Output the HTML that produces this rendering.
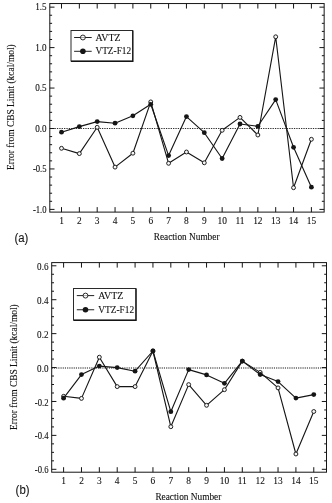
<!DOCTYPE html>
<html><head><meta charset="utf-8"><title>Error from CBS Limit</title>
<style>
html,body{margin:0;padding:0;background:#fff;}
svg{display:block}
.t{font-family:"Liberation Serif", "DejaVu Serif", serif;font-size:9.4px;fill:#111;stroke:#111;stroke-width:0.1px}
.s{font-family:"Liberation Sans", "DejaVu Sans", sans-serif;font-size:12px;fill:#161616;stroke:#161616;stroke-width:0.12px}
</style></head><body>
<svg width="332" height="503" viewBox="0 0 332 503">
<rect width="332" height="503" fill="#fff"/>
<rect x="49.8" y="3.55" width="274.34999999999997" height="208.54999999999998" fill="none" stroke="#151515" stroke-width="1"/>
<line x1="49.8" y1="128.5" x2="324.15" y2="128.5" stroke="#151515" stroke-width="0.9" stroke-dasharray="1.3 1.07"/>
<path d="M61.50 212.1V207.1M61.50 3.55V8.55M79.35 212.1V207.1M79.35 3.55V8.55M97.20 212.1V207.1M97.20 3.55V8.55M115.05 212.1V207.1M115.05 3.55V8.55M132.90 212.1V207.1M132.90 3.55V8.55M150.75 212.1V207.1M150.75 3.55V8.55M168.60 212.1V207.1M168.60 3.55V8.55M186.45 212.1V207.1M186.45 3.55V8.55M204.30 212.1V207.1M204.30 3.55V8.55M222.15 212.1V207.1M222.15 3.55V8.55M240.00 212.1V207.1M240.00 3.55V8.55M257.85 212.1V207.1M257.85 3.55V8.55M275.70 212.1V207.1M275.70 3.55V8.55M293.55 212.1V207.1M293.55 3.55V8.55M311.40 212.1V207.1M311.40 3.55V8.55M49.8 209.40H54.5M324.15 209.40H319.45M49.8 201.31H52.099999999999994M324.15 201.31H321.84999999999997M49.8 193.22H52.099999999999994M324.15 193.22H321.84999999999997M49.8 185.13H52.099999999999994M324.15 185.13H321.84999999999997M49.8 177.04H52.099999999999994M324.15 177.04H321.84999999999997M49.8 168.95H54.5M324.15 168.95H319.45M49.8 160.86H52.099999999999994M324.15 160.86H321.84999999999997M49.8 152.77H52.099999999999994M324.15 152.77H321.84999999999997M49.8 144.68H52.099999999999994M324.15 144.68H321.84999999999997M49.8 136.59H52.099999999999994M324.15 136.59H321.84999999999997M49.8 128.50H54.5M324.15 128.50H319.45M49.8 120.41H52.099999999999994M324.15 120.41H321.84999999999997M49.8 112.32H52.099999999999994M324.15 112.32H321.84999999999997M49.8 104.23H52.099999999999994M324.15 104.23H321.84999999999997M49.8 96.14H52.099999999999994M324.15 96.14H321.84999999999997M49.8 88.05H54.5M324.15 88.05H319.45M49.8 79.96H52.099999999999994M324.15 79.96H321.84999999999997M49.8 71.87H52.099999999999994M324.15 71.87H321.84999999999997M49.8 63.78H52.099999999999994M324.15 63.78H321.84999999999997M49.8 55.69H52.099999999999994M324.15 55.69H321.84999999999997M49.8 47.60H54.5M324.15 47.60H319.45M49.8 39.51H52.099999999999994M324.15 39.51H321.84999999999997M49.8 31.42H52.099999999999994M324.15 31.42H321.84999999999997M49.8 23.33H52.099999999999994M324.15 23.33H321.84999999999997M49.8 15.24H52.099999999999994M324.15 15.24H321.84999999999997M49.8 7.15H54.5M324.15 7.15H319.45" stroke="#151515" stroke-width="1" fill="none"/>
<text x="46.6" y="10.45" text-anchor="end" class="t" textLength="11.40" lengthAdjust="spacingAndGlyphs">1.5</text>
<text x="46.6" y="50.90" text-anchor="end" class="t" textLength="11.40" lengthAdjust="spacingAndGlyphs">1.0</text>
<text x="46.6" y="91.35" text-anchor="end" class="t" textLength="11.40" lengthAdjust="spacingAndGlyphs">0.5</text>
<text x="46.6" y="131.80" text-anchor="end" class="t" textLength="11.40" lengthAdjust="spacingAndGlyphs">0.0</text>
<text x="46.6" y="172.25" text-anchor="end" class="t" textLength="13.69" lengthAdjust="spacingAndGlyphs">-0.5</text>
<text x="46.6" y="212.70" text-anchor="end" class="t" textLength="13.69" lengthAdjust="spacingAndGlyphs">-1.0</text>
<text x="61.50" y="224.1" text-anchor="middle" class="t">1</text>
<text x="79.35" y="224.1" text-anchor="middle" class="t">2</text>
<text x="97.20" y="224.1" text-anchor="middle" class="t">3</text>
<text x="115.05" y="224.1" text-anchor="middle" class="t">4</text>
<text x="132.90" y="224.1" text-anchor="middle" class="t">5</text>
<text x="150.75" y="224.1" text-anchor="middle" class="t">6</text>
<text x="168.60" y="224.1" text-anchor="middle" class="t">7</text>
<text x="186.45" y="224.1" text-anchor="middle" class="t">8</text>
<text x="204.30" y="224.1" text-anchor="middle" class="t">9</text>
<text x="222.15" y="224.1" text-anchor="middle" class="t">10</text>
<text x="240.00" y="224.1" text-anchor="middle" class="t">11</text>
<text x="257.85" y="224.1" text-anchor="middle" class="t">12</text>
<text x="275.70" y="224.1" text-anchor="middle" class="t">13</text>
<text x="293.55" y="224.1" text-anchor="middle" class="t">14</text>
<text x="311.40" y="224.1" text-anchor="middle" class="t">15</text>
<polyline points="61.50,148.30 79.35,153.60 97.20,127.30 115.05,167.10 132.90,153.20 150.75,101.90 168.60,163.30 186.45,152.00 204.30,162.80 222.15,130.30 240.00,117.40 257.85,135.00 275.70,36.80 293.55,187.70 311.40,139.30" fill="none" stroke="#151515" stroke-width="1.12" stroke-linejoin="round"/>
<circle cx="61.50" cy="148.30" r="1.95" fill="#f6f6f6" stroke="#151515" stroke-width="0.95"/>
<circle cx="79.35" cy="153.60" r="1.95" fill="#f6f6f6" stroke="#151515" stroke-width="0.95"/>
<circle cx="97.20" cy="127.30" r="1.95" fill="#f6f6f6" stroke="#151515" stroke-width="0.95"/>
<circle cx="115.05" cy="167.10" r="1.95" fill="#f6f6f6" stroke="#151515" stroke-width="0.95"/>
<circle cx="132.90" cy="153.20" r="1.95" fill="#f6f6f6" stroke="#151515" stroke-width="0.95"/>
<circle cx="150.75" cy="101.90" r="1.95" fill="#f6f6f6" stroke="#151515" stroke-width="0.95"/>
<circle cx="168.60" cy="163.30" r="1.95" fill="#f6f6f6" stroke="#151515" stroke-width="0.95"/>
<circle cx="186.45" cy="152.00" r="1.95" fill="#f6f6f6" stroke="#151515" stroke-width="0.95"/>
<circle cx="204.30" cy="162.80" r="1.95" fill="#f6f6f6" stroke="#151515" stroke-width="0.95"/>
<circle cx="222.15" cy="130.30" r="1.95" fill="#f6f6f6" stroke="#151515" stroke-width="0.95"/>
<circle cx="240.00" cy="117.40" r="1.95" fill="#f6f6f6" stroke="#151515" stroke-width="0.95"/>
<circle cx="257.85" cy="135.00" r="1.95" fill="#f6f6f6" stroke="#151515" stroke-width="0.95"/>
<circle cx="275.70" cy="36.80" r="1.95" fill="#f6f6f6" stroke="#151515" stroke-width="0.95"/>
<circle cx="293.55" cy="187.70" r="1.95" fill="#f6f6f6" stroke="#151515" stroke-width="0.95"/>
<circle cx="311.40" cy="139.30" r="1.95" fill="#f6f6f6" stroke="#151515" stroke-width="0.95"/>
<polyline points="61.50,132.20 79.35,126.60 97.20,121.60 115.05,123.20 132.90,115.80 150.75,104.30 168.60,155.60 186.45,116.60 204.30,132.70 222.15,158.50 240.00,124.00 257.85,126.30 275.70,99.60 293.55,147.30 311.40,187.20" fill="none" stroke="#151515" stroke-width="1.12" stroke-linejoin="round"/>
<circle cx="61.50" cy="132.20" r="2.4" fill="#151515"/>
<circle cx="79.35" cy="126.60" r="2.4" fill="#151515"/>
<circle cx="97.20" cy="121.60" r="2.4" fill="#151515"/>
<circle cx="115.05" cy="123.20" r="2.4" fill="#151515"/>
<circle cx="132.90" cy="115.80" r="2.4" fill="#151515"/>
<circle cx="150.75" cy="104.30" r="2.4" fill="#151515"/>
<circle cx="168.60" cy="155.60" r="2.4" fill="#151515"/>
<circle cx="186.45" cy="116.60" r="2.4" fill="#151515"/>
<circle cx="204.30" cy="132.70" r="2.4" fill="#151515"/>
<circle cx="222.15" cy="158.50" r="2.4" fill="#151515"/>
<circle cx="240.00" cy="124.00" r="2.4" fill="#151515"/>
<circle cx="257.85" cy="126.30" r="2.4" fill="#151515"/>
<circle cx="275.70" cy="99.60" r="2.4" fill="#151515"/>
<circle cx="293.55" cy="147.30" r="2.4" fill="#151515"/>
<circle cx="311.40" cy="187.20" r="2.4" fill="#151515"/>
<rect x="71.0" y="30.5" width="61.599999999999994" height="30.5" fill="#fff" stroke="#2a2a2a" stroke-width="1"/>
<path d="M132.9 30.5V61.3H71.0" fill="none" stroke="#151515" stroke-width="1.2"/>
<path d="M74.1 37.5H91.7M74.1 51.3H91.7" stroke="#151515" stroke-width="0.95"/>
<circle cx="82.9" cy="37.5" r="2.45" fill="#fff" fill-opacity="0.6" stroke="#151515" stroke-width="0.9"/>
<circle cx="82.9" cy="51.3" r="2.8" fill="#151515"/>
<text x="95.4" y="40.8" class="t" textLength="25.1" lengthAdjust="spacingAndGlyphs">AVTZ</text>
<text x="95.4" y="54.2" class="t" textLength="35.8" lengthAdjust="spacingAndGlyphs">VTZ-F12</text>
<text transform="translate(14.2 170) rotate(-90)" class="t" textLength="125.7" lengthAdjust="spacingAndGlyphs">Error from CBS Limit (kcal/mol)</text>
<text x="153.7" y="240.4" class="t" textLength="65.8" lengthAdjust="spacingAndGlyphs">Reaction Number</text>
<text x="14.4" y="241.9" class="s" textLength="13.9" lengthAdjust="spacingAndGlyphs">(a)</text>
<rect x="51.7" y="262.6" width="274.8" height="209.59999999999997" fill="none" stroke="#151515" stroke-width="1"/>
<line x1="51.7" y1="368.05" x2="326.5" y2="368.05" stroke="#111" stroke-width="1.1" stroke-dasharray="1.15 1.05"/>
<path d="M63.60 472.2V467.2M63.60 262.6V267.6M81.47 472.2V467.2M81.47 262.6V267.6M99.34 472.2V467.2M99.34 262.6V267.6M117.21 472.2V467.2M117.21 262.6V267.6M135.08 472.2V467.2M135.08 262.6V267.6M152.95 472.2V467.2M152.95 262.6V267.6M170.82 472.2V467.2M170.82 262.6V267.6M188.69 472.2V467.2M188.69 262.6V267.6M206.56 472.2V467.2M206.56 262.6V267.6M224.43 472.2V467.2M224.43 262.6V267.6M242.30 472.2V467.2M242.30 262.6V267.6M260.17 472.2V467.2M260.17 262.6V267.6M278.04 472.2V467.2M278.04 262.6V267.6M295.91 472.2V467.2M295.91 262.6V267.6M313.78 472.2V467.2M313.78 262.6V267.6M51.7 469.31H56.400000000000006M326.5 469.31H321.8M51.7 460.83H54.0M326.5 460.83H324.2M51.7 452.35H54.0M326.5 452.35H324.2M51.7 443.87H54.0M326.5 443.87H324.2M51.7 435.39H56.400000000000006M326.5 435.39H321.8M51.7 426.91H54.0M326.5 426.91H324.2M51.7 418.43H54.0M326.5 418.43H324.2M51.7 409.95H54.0M326.5 409.95H324.2M51.7 401.47H56.400000000000006M326.5 401.47H321.8M51.7 392.99H54.0M326.5 392.99H324.2M51.7 384.51H54.0M326.5 384.51H324.2M51.7 376.03H54.0M326.5 376.03H324.2M51.7 367.55H56.400000000000006M326.5 367.55H321.8M51.7 359.07H54.0M326.5 359.07H324.2M51.7 350.59H54.0M326.5 350.59H324.2M51.7 342.11H54.0M326.5 342.11H324.2M51.7 333.63H56.400000000000006M326.5 333.63H321.8M51.7 325.15H54.0M326.5 325.15H324.2M51.7 316.67H54.0M326.5 316.67H324.2M51.7 308.19H54.0M326.5 308.19H324.2M51.7 299.71H56.400000000000006M326.5 299.71H321.8M51.7 291.23H54.0M326.5 291.23H324.2M51.7 282.75H54.0M326.5 282.75H324.2M51.7 274.27H54.0M326.5 274.27H324.2M51.7 265.79H56.400000000000006M326.5 265.79H321.8" stroke="#151515" stroke-width="1" fill="none"/>
<text x="48.5" y="269.84" text-anchor="end" class="t" textLength="11.40" lengthAdjust="spacingAndGlyphs">0.6</text>
<text x="48.5" y="303.76" text-anchor="end" class="t" textLength="11.40" lengthAdjust="spacingAndGlyphs">0.4</text>
<text x="48.5" y="337.68" text-anchor="end" class="t" textLength="11.40" lengthAdjust="spacingAndGlyphs">0.2</text>
<text x="48.5" y="371.60" text-anchor="end" class="t" textLength="11.40" lengthAdjust="spacingAndGlyphs">0.0</text>
<text x="48.5" y="405.52" text-anchor="end" class="t" textLength="13.69" lengthAdjust="spacingAndGlyphs">-0.2</text>
<text x="48.5" y="439.44" text-anchor="end" class="t" textLength="13.69" lengthAdjust="spacingAndGlyphs">-0.4</text>
<text x="48.5" y="473.36" text-anchor="end" class="t" textLength="13.69" lengthAdjust="spacingAndGlyphs">-0.6</text>
<text x="63.60" y="483.9" text-anchor="middle" class="t">1</text>
<text x="81.47" y="483.9" text-anchor="middle" class="t">2</text>
<text x="99.34" y="483.9" text-anchor="middle" class="t">3</text>
<text x="117.21" y="483.9" text-anchor="middle" class="t">4</text>
<text x="135.08" y="483.9" text-anchor="middle" class="t">5</text>
<text x="152.95" y="483.9" text-anchor="middle" class="t">6</text>
<text x="170.82" y="483.9" text-anchor="middle" class="t">7</text>
<text x="188.69" y="483.9" text-anchor="middle" class="t">8</text>
<text x="206.56" y="483.9" text-anchor="middle" class="t">9</text>
<text x="224.43" y="483.9" text-anchor="middle" class="t">10</text>
<text x="242.30" y="483.9" text-anchor="middle" class="t">11</text>
<text x="260.17" y="483.9" text-anchor="middle" class="t">12</text>
<text x="278.04" y="483.9" text-anchor="middle" class="t">13</text>
<text x="295.91" y="483.9" text-anchor="middle" class="t">14</text>
<text x="313.78" y="483.9" text-anchor="middle" class="t">15</text>
<polyline points="63.60,396.30 81.47,398.40 99.34,357.20 117.21,386.60 135.08,386.60 152.95,351.00 170.82,426.70 188.69,384.60 206.56,405.30 224.43,389.70 242.30,361.10 260.17,372.40 278.04,387.90 295.91,454.00 313.78,411.50" fill="none" stroke="#151515" stroke-width="1.12" stroke-linejoin="round"/>
<circle cx="63.60" cy="396.30" r="1.95" fill="#f6f6f6" stroke="#151515" stroke-width="0.95"/>
<circle cx="81.47" cy="398.40" r="1.95" fill="#f6f6f6" stroke="#151515" stroke-width="0.95"/>
<circle cx="99.34" cy="357.20" r="1.95" fill="#f6f6f6" stroke="#151515" stroke-width="0.95"/>
<circle cx="117.21" cy="386.60" r="1.95" fill="#f6f6f6" stroke="#151515" stroke-width="0.95"/>
<circle cx="135.08" cy="386.60" r="1.95" fill="#f6f6f6" stroke="#151515" stroke-width="0.95"/>
<circle cx="152.95" cy="351.00" r="1.95" fill="#f6f6f6" stroke="#151515" stroke-width="0.95"/>
<circle cx="170.82" cy="426.70" r="1.95" fill="#f6f6f6" stroke="#151515" stroke-width="0.95"/>
<circle cx="188.69" cy="384.60" r="1.95" fill="#f6f6f6" stroke="#151515" stroke-width="0.95"/>
<circle cx="206.56" cy="405.30" r="1.95" fill="#f6f6f6" stroke="#151515" stroke-width="0.95"/>
<circle cx="224.43" cy="389.70" r="1.95" fill="#f6f6f6" stroke="#151515" stroke-width="0.95"/>
<circle cx="242.30" cy="361.10" r="1.95" fill="#f6f6f6" stroke="#151515" stroke-width="0.95"/>
<circle cx="260.17" cy="372.40" r="1.95" fill="#f6f6f6" stroke="#151515" stroke-width="0.95"/>
<circle cx="278.04" cy="387.90" r="1.95" fill="#f6f6f6" stroke="#151515" stroke-width="0.95"/>
<circle cx="295.91" cy="454.00" r="1.95" fill="#f6f6f6" stroke="#151515" stroke-width="0.95"/>
<circle cx="313.78" cy="411.50" r="1.95" fill="#f6f6f6" stroke="#151515" stroke-width="0.95"/>
<polyline points="63.60,398.20 81.47,374.60 99.34,366.10 117.21,367.60 135.08,371.20 152.95,351.00 170.82,411.70 188.69,369.60 206.56,374.90 224.43,383.30 242.30,361.10 260.17,374.50 278.04,381.60 295.91,398.10 313.78,394.60" fill="none" stroke="#151515" stroke-width="1.12" stroke-linejoin="round"/>
<circle cx="63.60" cy="398.20" r="2.4" fill="#151515"/>
<circle cx="81.47" cy="374.60" r="2.4" fill="#151515"/>
<circle cx="99.34" cy="366.10" r="2.4" fill="#151515"/>
<circle cx="117.21" cy="367.60" r="2.4" fill="#151515"/>
<circle cx="135.08" cy="371.20" r="2.4" fill="#151515"/>
<circle cx="152.95" cy="351.00" r="2.4" fill="#151515"/>
<circle cx="170.82" cy="411.70" r="2.4" fill="#151515"/>
<circle cx="188.69" cy="369.60" r="2.4" fill="#151515"/>
<circle cx="206.56" cy="374.90" r="2.4" fill="#151515"/>
<circle cx="224.43" cy="383.30" r="2.4" fill="#151515"/>
<circle cx="242.30" cy="361.10" r="2.4" fill="#151515"/>
<circle cx="260.17" cy="374.50" r="2.4" fill="#151515"/>
<circle cx="278.04" cy="381.60" r="2.4" fill="#151515"/>
<circle cx="295.91" cy="398.10" r="2.4" fill="#151515"/>
<circle cx="313.78" cy="394.60" r="2.4" fill="#151515"/>
<rect x="73.5" y="288.5" width="62.30000000000001" height="31.5" fill="#fff" stroke="#2a2a2a" stroke-width="1"/>
<path d="M136.10000000000002 288.5V320.3H73.5" fill="none" stroke="#151515" stroke-width="1.2"/>
<path d="M76.8 295.6H94.2M76.8 309.75H94.2" stroke="#151515" stroke-width="0.95"/>
<circle cx="85.5" cy="295.6" r="2.45" fill="#fff" fill-opacity="0.6" stroke="#151515" stroke-width="0.9"/>
<circle cx="85.5" cy="309.75" r="2.8" fill="#151515"/>
<text x="98.2" y="299.0" class="t" textLength="25.2" lengthAdjust="spacingAndGlyphs">AVTZ</text>
<text x="98.2" y="312.7" class="t" textLength="35.9" lengthAdjust="spacingAndGlyphs">VTZ-F12</text>
<text transform="translate(16.7 430) rotate(-90)" class="t" textLength="125.7" lengthAdjust="spacingAndGlyphs">Error from CBS Limit (kcal/mol)</text>
<text x="155.4" y="499.9" class="t" textLength="65.9" lengthAdjust="spacingAndGlyphs">Reaction Number</text>
<text x="15.6" y="494.3" class="s" textLength="13.9" lengthAdjust="spacingAndGlyphs">(b)</text>
</svg>
</body></html>
